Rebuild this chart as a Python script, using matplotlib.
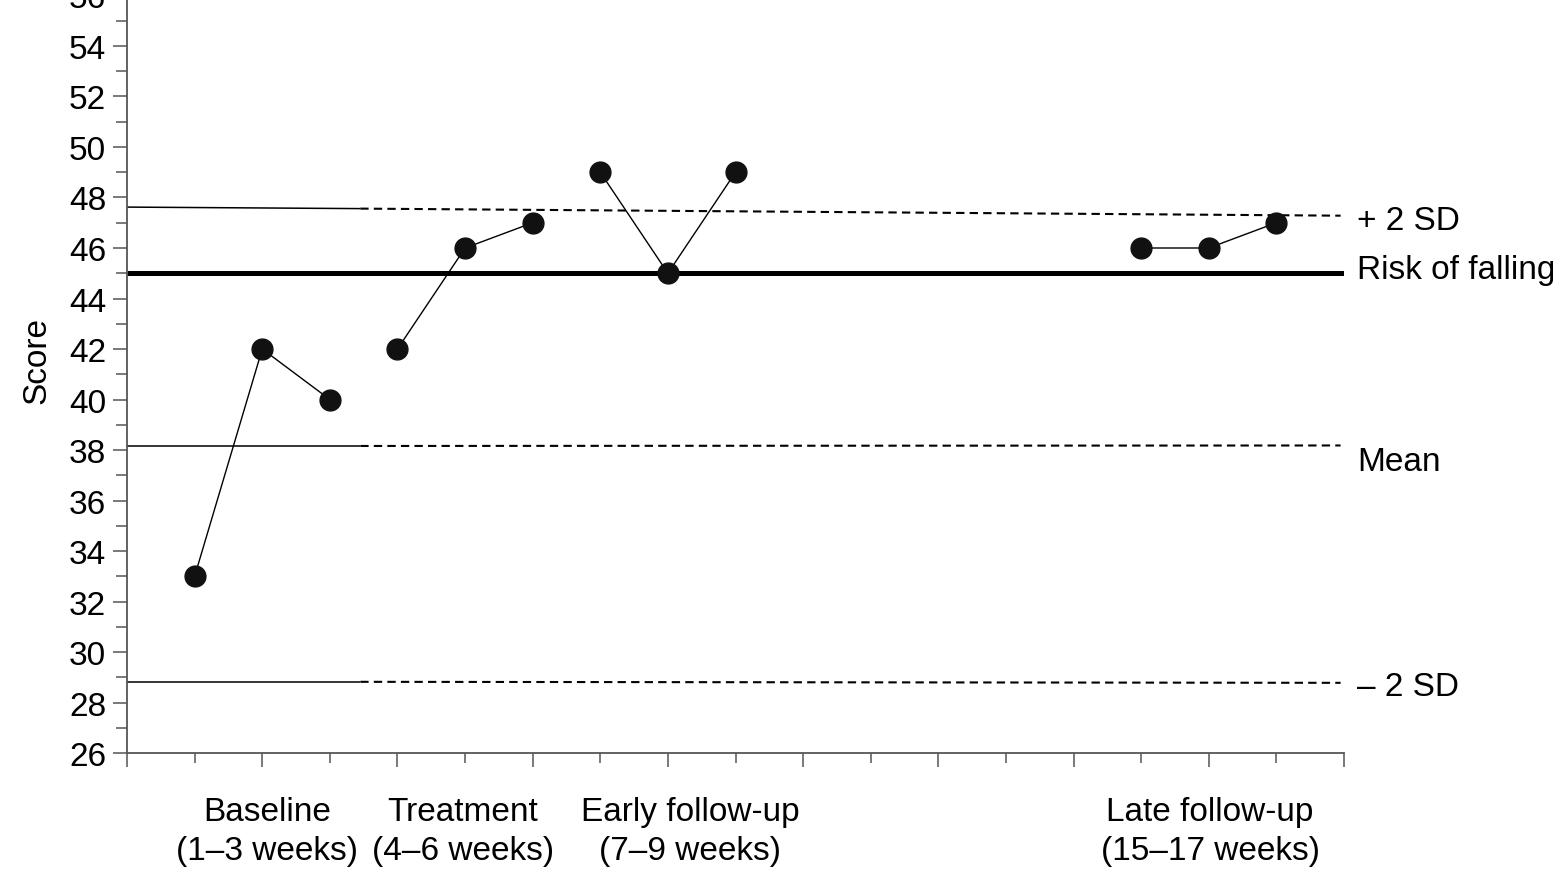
import matplotlib.pyplot as plt
from matplotlib.ticker import MultipleLocator, NullFormatter

plt.rcParams['font.family'] = ['Liberation Sans', 'DejaVu Sans']

# scores per week, one list per phase
baseline_x = [1, 2, 3]
baseline_y = [33, 42, 40]
treatment_x = [4, 5, 6]
treatment_y = [42, 46, 47]
early_x = [7, 8, 9]
early_y = [49, 45, 49]
late_x = [15, 16, 17]
late_y = [46, 46, 47]

# reference lines: value at start, at end of baseline, at right end
plus2sd = [47.62, 47.56, 47.28]
mean = [38.16, 38.16, 38.18]
minus2sd = [28.82, 28.82, 28.78]
risk_level = 45
baseline_end = 3.45
line_end = 17.95

phase_labels = ['Baseline\n(1\u20133 weeks)', 'Treatment\n(4\u20136 weeks)',
                'Early follow-up\n(7\u20139 weeks)', 'Late follow-up\n(15\u201317 weeks)']
phase_label_x = [2.07, 4.97, 8.33, 16.02]

ref_labels = ['+ 2 SD', 'Risk of falling', 'Mean', '\u2013 2 SD']
ref_label_y = [47.1, 45.15, 37.55, 28.62]

fig = plt.figure(figsize=(15.53, 8.78), dpi=100)
ax = fig.add_axes([0.0818, 0.1412, 0.7836, 0.8628])

# reference lines, solid over baseline then dashed
for vals in (plus2sd, mean, minus2sd):
    ax.plot([0, baseline_end], vals[:2], color='black', lw=1.1, solid_capstyle='butt')
    ax.plot([baseline_end, line_end], vals[1:], color='black', lw=1.5,
            linestyle=(0, (4, 2.5)))
ax.plot([0, 18], [risk_level, risk_level], color='black', lw=3.6, solid_capstyle='butt')

for xs, ys in ((baseline_x, baseline_y), (treatment_x, treatment_y),
               (early_x, early_y), (late_x, late_y)):
    ax.plot(xs, ys, color='black', lw=1.0, marker='o', markersize=15,
            markerfacecolor='#111111', markeredgecolor='#111111', zorder=3)

ax.set_xlim(0, 18)
ax.set_ylim(26, 56)

ax.xaxis.set_major_locator(MultipleLocator(2))
ax.xaxis.set_minor_locator(MultipleLocator(1))
ax.xaxis.set_major_formatter(NullFormatter())
ax.yaxis.set_major_locator(MultipleLocator(2))
ax.yaxis.set_minor_locator(MultipleLocator(1))

ax.tick_params(axis='y', which='major', length=10, width=1.1, labelsize=24, pad=5, color='#555555')
ax.tick_params(axis='y', which='minor', length=8, width=1.1, color='#555555')
ax.tick_params(axis='x', which='major', length=10, width=1.1, color='#555555')
ax.tick_params(axis='x', which='minor', length=7, width=1.1, color='#555555')

for side in ('top', 'right'):
    ax.spines[side].set_visible(False)
for side in ('left', 'bottom'):
    ax.spines[side].set_color('#555555')
    ax.spines[side].set_linewidth(1.3)

ax.set_ylabel('Score', fontsize=24)
ax.yaxis.set_label_coords(-0.061, 0.52)

for x, lab in zip(phase_label_x, phase_labels):
    ax.text(x, 22.9, lab, ha='center', va='center', fontsize=24,
            linespacing=1.32, clip_on=False)

for y, lab in zip(ref_label_y, ref_labels):
    ax.text(18.2, y, lab, ha='left', va='center', fontsize=24, clip_on=False)

fig.savefig('out.png', dpi=100)
